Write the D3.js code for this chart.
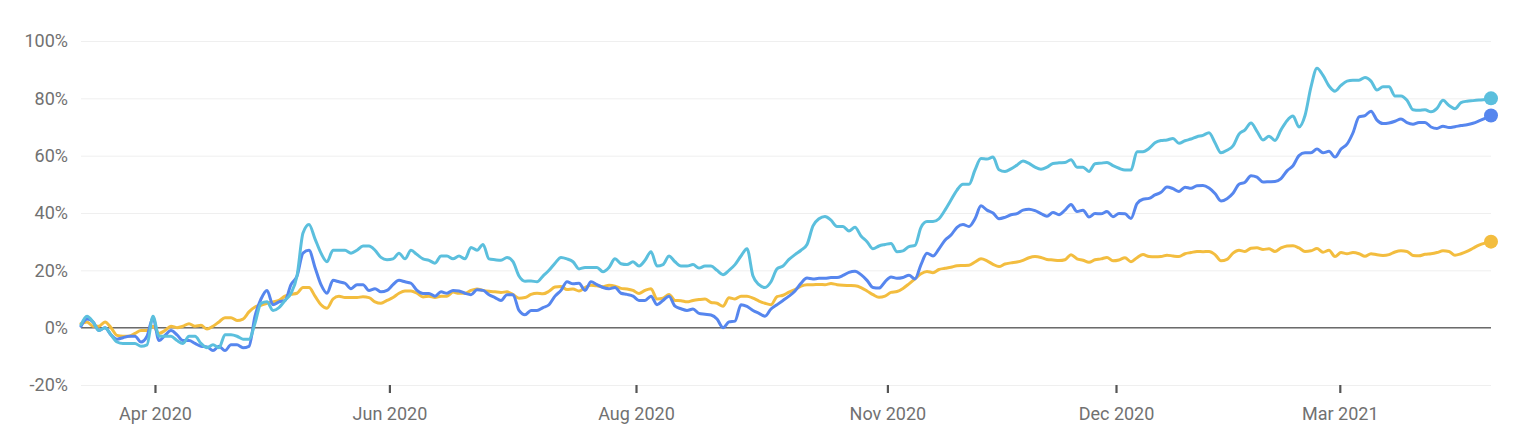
<!DOCTYPE html>
<html>
<head>
<meta charset="utf-8">
<script src="https://cdn.jsdelivr.net/npm/d3@7/dist/d3.min.js"></script>
<style>
  html, body { margin: 0; padding: 0; background: #fff; }
  svg { display: block; font-family: Roboto, "Noto Sans", sans-serif; }
</style>
</head>
<body>
<svg id="chart" width="1536" height="443"></svg>
<script>
// ---- data (percent change, one point per step) ----
const cyanValues = [
  1, 4, 2, -1, 0, -2.5, -5, -5.5, -5.5, -5.5, -6.5, -6, 4, -3, -3, -3, -4.5, -5.5, -3, -3,
  -5.5, -7, -6, -7, -2.5, -2.5, -3, -4, -4, 1.5, 8.5, 9, 6, 7, 9.5, 12, 18, 33, 36, 31,
  26, 23, 27, 27, 27, 26, 27, 28.5, 28.5, 27, 24.5, 23.7, 24, 26, 24, 27, 25.5, 24, 23.5, 22.5,
  25, 25, 24, 25, 24, 28, 27, 29, 24, 23.7, 23.5, 24.5, 23, 18, 16.2, 16.3, 16, 18, 20, 22.5,
  24.5, 24, 23, 20.5, 21, 21, 21, 19.5, 21, 24, 22.3, 22, 23, 21.5, 23.5, 26.5, 21.5, 22, 25, 23,
  21.5, 21.5, 22, 20.8, 21.5, 21.5, 20, 18.5, 20, 22, 25, 27.5, 18, 15, 14, 16, 20.5, 21.5, 23.8, 25.5,
  27, 29, 35.5, 38, 38.8, 37.5, 35.3, 35.3, 33.7, 35, 32, 30, 27.5, 28.5, 29, 29.4, 26.5, 26.8, 28.3, 28.7,
  35, 37, 37, 38, 41, 44.5, 48, 50, 50, 55, 59, 58.8, 59.5, 55.1, 54.5, 55.4, 56.7, 58.1, 57.3, 56,
  55.3, 56, 57.3, 57.5, 57.6, 58.6, 56, 56, 54.5, 57.2, 57.4, 57.6, 56.5, 55.6, 55, 55, 61.4, 61.4, 62.5, 64.5,
  65.3, 65.5, 66, 64.3, 65.2, 65.8, 66.6, 67.1, 68, 64.5, 61, 61.9, 63.4, 67.5, 69, 71.4, 68.5, 65.5, 66.8, 65.3,
  69, 72.2, 73.8, 70, 74, 84, 90.5, 88, 84.3, 82.5, 84.5, 86, 86.3, 86.3, 87.3, 86, 82.9, 84, 84, 80.8,
  80.8, 79.3, 76, 75.8, 76, 75.3, 76.5, 79.3, 77.5, 76.4, 78.5, 79, 79.2, 79.4, 79.6, 80
];
const blueValues = [
  0.5, 3, 2, -1, 0, -2.5, -4, -3.5, -3, -3, -5, -3, 3.5, -4.5, -2.7, -1, -2.5, -4.5, -4.5, -5.5,
  -6.5, -6.7, -8, -6.5, -8, -6, -6, -7, -6.5, 4, 10, 13, 8, 9, 9.5, 15, 18, 26, 27, 21,
  15, 12, 16.5, 16, 15.5, 13.6, 15, 15, 13, 13.6, 12.5, 13, 15, 16.5, 16, 15.5, 13, 11.9, 11.9, 11,
  12.5, 12, 13, 12.8, 12, 11.5, 13.2, 13, 11.5, 10.5, 9.5, 11.5, 11.5, 6, 4.5, 6, 6, 7, 8, 11,
  13, 16, 15.3, 15.5, 13, 16, 15, 14, 13.6, 14, 12, 11.6, 11, 9.5, 9.5, 11, 8, 9.5, 11, 7.5,
  6.6, 6, 6.5, 5, 4.7, 4.4, 3, 0, 2, 2.3, 8, 7.4, 6, 5, 4, 6.5, 8, 9.5, 11, 12.8,
  15.5, 17.3, 17, 17.2, 17.2, 17.5, 17.5, 18.2, 19.3, 19.7, 18.5, 16.5, 14, 13.8, 16, 17.7, 17.2, 17.5, 18.3, 17,
  22, 26, 25, 27.5, 30.5, 32.3, 35, 36, 35.3, 38, 42.5, 41, 40, 38, 38.5, 39.4, 39.8, 41, 41.3, 40.8,
  39.8, 38.9, 40.2, 39.4, 41, 43, 40.5, 41, 38.6, 39.8, 39.7, 40.5, 38.7, 39.8, 39.7, 38.1, 43.3, 44.8, 45.1, 46.3,
  47.2, 49.1, 48.5, 47.5, 49, 48.6, 49.5, 49.6, 48.7, 46.8, 44.2, 45, 46.9, 50, 50.7, 53, 52.5, 50.8, 50.9, 51,
  52, 54.7, 56.5, 60, 61, 61, 62.3, 61, 61.5, 59.5, 62.3, 64, 68, 73.5, 74, 75.5, 72.4, 71.2, 71.4, 72,
  72.8, 71.5, 71, 71.6, 71.6, 70, 69.5, 70.3, 69.8, 70.1, 70.5, 70.8, 71.3, 72.1, 73, 74
];
const yellowValues = [
  1.4, 2, 0.5, 0.5, 2, 0, -2.7, -3, -3, -2, -1, -1, 0.5, -2, -1, 0.5, 0, 0.5, 1.4, 0.5,
  0.8, -0.5, 0.5, 2, 3.5, 3.5, 2.5, 3, 5.5, 7.2, 7.8, 8.5, 9, 9.5, 11, 11.6, 12, 14, 14, 11,
  8, 6.8, 10, 11, 10.5, 10.5, 10.5, 10.8, 10.5, 9, 8.5, 9.5, 10.5, 12, 12.8, 12.8, 12, 10.7, 11, 10.5,
  11, 11, 12.4, 12, 12, 13, 13.5, 13, 12.7, 12.5, 12.3, 12.5, 11.5, 10.3, 10.5, 11.6, 12, 11.8, 12.7, 14.2,
  14.4, 13.3, 13.5, 12.8, 14, 14.8, 14.6, 14.3, 14.8, 14.5, 13.7, 13.5, 13, 11.9, 13, 13.6, 10, 10.3, 11.6, 9.5,
  9.4, 9, 9.5, 9.8, 10, 8.8, 8.5, 7.5, 10.4, 10, 11, 11, 10.3, 9.3, 8.5, 8, 10.8, 11.3, 12.4, 13.3,
  14.5, 15, 15, 15.1, 15, 15.4, 15, 14.8, 14.7, 14.6, 14, 12.8, 11.5, 10.6, 11, 12.3, 12.6, 13.7, 15.3, 17,
  18.8, 19.6, 19.2, 20.3, 20.7, 21.1, 21.6, 21.7, 21.8, 22.9, 24, 23.3, 22.1, 21.3, 22.2, 22.6, 22.9, 23.5, 24.4, 24.8,
  24.5, 23.8, 23.6, 23.4, 23.7, 25.4, 24, 23.5, 22.8, 23.7, 24, 24.5, 23.3, 23.6, 24.4, 23, 24.4, 25.5, 24.8, 24.7,
  24.8, 25.3, 25, 24.8, 25.8, 26.2, 26.6, 26.5, 26.6, 25.5, 23.3, 23.8, 26, 27, 26.6, 27.7, 27.9, 27.3, 27.5, 26.6,
  27.8, 28.5, 28.6, 27.8, 26.6, 26.8, 27.6, 26.3, 27, 24.8, 26.2, 25.8, 26.2, 25.8, 24.9, 25.8, 25.4, 25.2, 25.5, 26.4,
  26.8, 26.6, 25.2, 25.1, 25.6, 25.8, 26.2, 26.8, 26.6, 25.3, 25.8, 26.6, 27.7, 28.8, 29.5, 30
];
// x-axis tick labels and the point index each sits at
const tickLabels = ["Apr 2020", "Jun 2020", "Aug 2020", "Nov 2020", "Dec 2020", "Mar 2021"];
const tickIndex = [12.33, 51.4, 92.5, 134.4, 172.5, 209.8];
// y-axis ticks (percent)
const yTicks = [-20, 0, 20, 40, 60, 80, 100];

const seriesList = [
  { name: "yellow", values: yellowValues, color: "#f3bd3f" },
  { name: "blue", values: blueValues, color: "#5686ee" },
  { name: "cyan", values: cyanValues, color: "#5bbfdd" }
];

(function draw() {
  const svg = d3.select("#chart");
  const pLeft = 81, pRight = 1491, pTop = 41, pBottom = 385;
  const n = cyanValues.length;

  const x = d3.scaleLinear().domain([0, n - 1]).range([pLeft, pRight]);
  const y = d3.scaleLinear().domain([-20, 100]).range([pBottom, pTop]);

  // gridlines + y labels
  const yAxis = d3.axisLeft(y)
    .tickValues(yTicks)
    .tickSize(-(pRight - pLeft))
    .tickPadding(13)
    .tickFormat(d => d + "%");
  const gy = svg.append("g").attr("transform", `translate(${pLeft},0)`).call(yAxis);
  gy.select(".domain").remove();
  gy.selectAll(".tick line").attr("stroke", "#efefef").attr("stroke-width", 1);
  gy.selectAll(".tick text")
    .attr("fill", "#717171")
    .style("font-size", "18px")
    .style("font-family", "Roboto, sans-serif");

  // zero baseline
  svg.append("line")
    .attr("x1", pLeft).attr("x2", pRight)
    .attr("y1", y(0)).attr("y2", y(0))
    .attr("stroke", "#6b6b6b").attr("stroke-width", 1.5);

  // x axis
  const xAxis = d3.axisBottom(x)
    .tickValues(tickIndex)
    .tickSize(8)
    .tickPadding(14)
    .tickFormat((d, i) => tickLabels[i]);
  const gx = svg.append("g").attr("transform", `translate(0,${pBottom})`).call(xAxis);
  gx.select(".domain").remove();
  gx.selectAll(".tick line").attr("stroke", "#555").attr("stroke-width", 2.2);
  gx.selectAll(".tick text")
    .attr("fill", "#717171")
    .style("font-size", "18px")
    .style("font-family", "Roboto, sans-serif");

  // lines
  const line = d3.line()
    .x((d, i) => x(i))
    .y(d => y(d))
    .curve(d3.curveMonotoneX);

  seriesList.forEach(s => {
    svg.append("path")
      .datum(s.values)
      .attr("fill", "none")
      .attr("stroke", s.color)
      .attr("stroke-width", 3)
      .attr("stroke-linejoin", "round")
      .attr("stroke-linecap", "round")
      .attr("d", line);
  });

  // end markers
  seriesList.forEach(s => {
    svg.append("circle")
      .attr("cx", x(n - 1))
      .attr("cy", y(s.values[n - 1]))
      .attr("r", 7)
      .attr("fill", s.color);
  });
})();
</script>
</body>
</html>
